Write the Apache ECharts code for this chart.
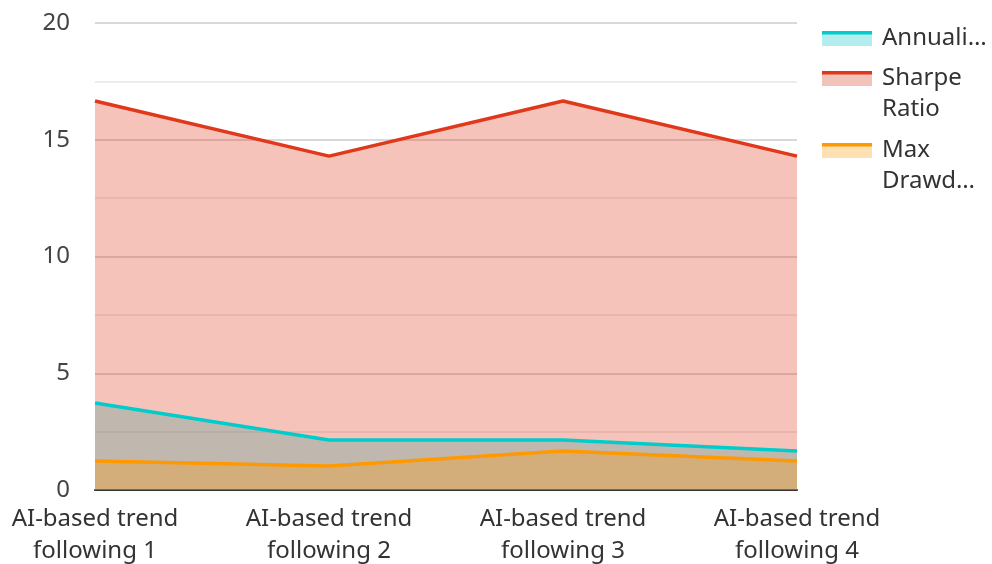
<!DOCTYPE html>
<html><head><meta charset="utf-8">
<script src="https://cdn.jsdelivr.net/npm/echarts@6/dist/echarts.min.js"></script>
<style>html,body{margin:0;padding:0;background:#fff}#c{width:992px;height:564px}</style>
</head><body><div id="c"></div>
<script>
const categories = ['AI-based trend following 1','AI-based trend following 2','AI-based trend following 3','AI-based trend following 4'];
const annualizedReturn = [3.73, 2.14, 2.14, 1.67];
const sharpeRatio = [16.66, 14.3, 16.66, 14.3];
const maxDrawdown = [1.24, 1.03, 1.67, 1.24];
const seriesNames = ['Annualized Return','Sharpe Ratio','Max Drawdown'];
const legendLabels = ['Annuali…','\nSharpe\nRatio','\nMax\nDrawd…'];
const yTicks = [0, 5, 10, 15, 20];

const lineColors = ['#00CCCC','#E0381A','#FF9900'];
const fillColors = ['#B3EDED','#F2C3B9','#FFE0B3'];
const FONT = '"Noto Sans", sans-serif';

function icon(i){
  const svg = '<svg xmlns="http://www.w3.org/2000/svg" width="55" height="15"><rect x="0" y="3" width="50" height="12" fill="'+fillColors[i]+'"/><rect x="0" y="0" width="50" height="3.5" fill="'+lineColors[i]+'"/></svg>';
  return 'image://data:image/svg+xml;charset=utf-8,' + encodeURIComponent(svg);
}
const allValues = [annualizedReturn, sharpeRatio, maxDrawdown];
const series = [];
allValues.forEach((vals,i)=>{
  series.push({name: seriesNames[i], type:'line', data: vals, showSymbol:false, symbol:'none',
    lineStyle:{width:0, opacity:0}, areaStyle:{color: lineColors[i], opacity:0.3}, z:2, silent:true});
});
allValues.forEach((vals,i)=>{
  series.push({name: seriesNames[i], type:'line', data: vals, showSymbol:false, symbol:'none',
    lineStyle:{width:3.5, color: lineColors[i]}, itemStyle:{color: lineColors[i]}, z:5});
});
const legendTops = [23, 32, 104];
const legends = seriesNames.map((n,i)=>({
  orient:'vertical', left:822, top: legendTops[i], padding:0, itemGap:0,
  itemWidth:55, itemHeight:15,
  data:[{name:n, icon: icon(i)}],
  formatter: ()=>legendLabels[i],
  textStyle:{fontFamily:FONT, fontSize:24, color:'#333', lineHeight:31}
}));

const chart = echarts.init(document.getElementById('c'));
chart.setOption({
  animation:false,
  backgroundColor:'#fff',
  grid:{left:95, right:195, top:23, bottom:74, containLabel:false, outerBoundsMode:'none'},
  legend: legends,
  xAxis:{type:'category', data:categories, boundaryGap:false,
    axisLine:{lineStyle:{color:'#333', width:2}}, axisTick:{show:false},
    axisLabel:{fontFamily:FONT, fontSize:24, color:'#333', lineHeight:32, margin:13,
      formatter: v=>v.replace(' following','\nfollowing')}},
  yAxis:{type:'value', min:yTicks[0], max:yTicks[yTicks.length-1], interval:5,
    axisLine:{show:false}, axisTick:{show:false},
    axisLabel:{fontFamily:FONT, fontSize:24, color:'#444', margin:25},
    splitLine:{lineStyle:{color:'#CCCCCC', width:1.5}},
    minorTick:{show:false, splitNumber:2},
    minorSplitLine:{show:true, lineStyle:{color:'#E6E6E6', width:1.5}}},
  series: series
});
</script></body></html>
